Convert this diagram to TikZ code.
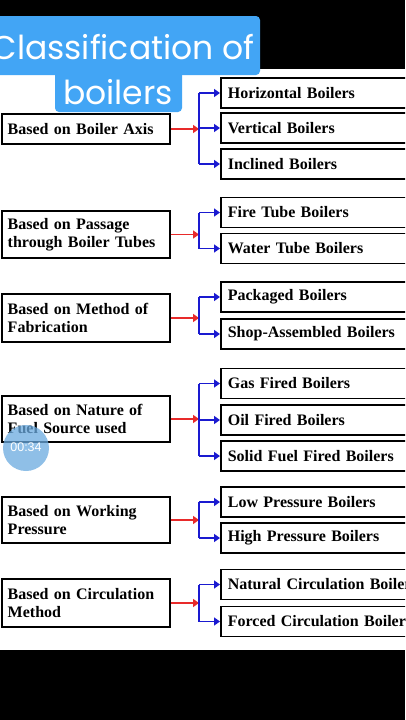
\documentclass[tikz,border=0pt]{standalone}
\usepackage{fontspec}
\setmainfont{Liberation Serif}
\newfontfamily\titlefont{Poppins}
\newfontfamily\clockfont{Liberation Sans}
\usetikzlibrary{arrows.meta,calc}
\definecolor{titleblue}{HTML}{42A5F5}
\definecolor{arrred}{HTML}{E82A2A}
\definecolor{arrblue}{HTML}{1A1AD0}
\definecolor{clockblue}{HTML}{6AAAE0}
\tikzset{
  leftbox/.style={draw=black, line width=1.7pt, fill=white, anchor=west,
    minimum width=168pt, text width=156pt, align=left, inner xsep=5pt,
    font=\fontsize{16}{18.5}\selectfont\bfseries},
  rightbox/.style={draw=black, line width=1.7pt, fill=white, anchor=west,
    minimum width=260pt, text width=246pt, align=left, inner xsep=7pt,
    minimum height=30pt, font=\fontsize{16}{18.5}\selectfont\bfseries},
  redarrow/.style={draw=arrred, line width=1.9pt, -{Triangle[length=6pt,width=8pt]}},
  bluearrow/.style={draw=arrblue, line width=1.9pt, -{Triangle[length=6pt,width=8pt]}},
  blueline/.style={draw=arrblue, line width=1.9pt},
  titlebg/.style={fill=titleblue, rounded corners=4pt},
  titletext/.style={text=white, font=\titlefont\fontsize{33}{36}\selectfont, inner sep=0pt, anchor=base}
}
\begin{document}
\begin{tikzpicture}[x=1pt,y=-1pt]
\useasboundingbox (0,0) rectangle (405,720);
\clip (0,0) rectangle (405,720);
% background
\fill[black] (0,0) rectangle (405,720);
\fill[white] (0,69) rectangle (405,650);

% title
\fill[titlebg] (-10,16) rectangle (260,75);
\fill[titlebg] (55,68) rectangle (182,112);
\node[titletext] (t1) at (123,59) {Classification of};
\node[titletext] (t2) at (118,104) {boilers};

% left boxes
\node[leftbox, minimum height=30pt] (L1) at (0.9,129) {Based on Boiler Axis};
\node[leftbox, minimum height=47pt] (L2) at (0.9,234.5) {Based on Passage\\through Boiler Tubes};
\node[leftbox, minimum height=48pt] (L3) at (0.9,318) {Based on Method of\\Fabrication};
\node[leftbox, minimum height=46pt] (L4) at (0.9,419) {Based on Nature of\\Fuel Source used};
\node[leftbox, minimum height=46pt] (L5) at (0.9,520) {Based on Working\\Pressure};
\node[leftbox, minimum height=48pt] (L6) at (0.9,603) {Based on Circulation\\Method};

% right boxes
\node[rightbox] (A1) at (220,93) {Horizontal Boilers};
\node[rightbox] (A2) at (220,128) {Vertical Boilers};
\node[rightbox] (A3) at (220,164) {Inclined Boilers};
\node[rightbox] (B1) at (220,212.5) {Fire Tube Boilers};
\node[rightbox] (B2) at (220,248.5) {Water Tube Boilers};
\node[rightbox] (C1) at (220,297) {Packaged Boilers};
\node[rightbox] (C2) at (220,334) {Shop-Assembled Boilers};
\node[rightbox] (D1) at (220,383.5) {Gas Fired Boilers};
\node[rightbox] (D2) at (220,420) {Oil Fired Boilers};
\node[rightbox] (D3) at (220,456) {Solid Fuel Fired Boilers};
\node[rightbox] (E1) at (220,502) {Low Pressure Boilers};
\node[rightbox] (E2) at (220,538) {High Pressure Boilers};
\node[rightbox] (F1) at (220,584.5) {Natural Circulation Boilers};
\node[rightbox] (F2) at (220,621.5) {Forced Circulation Boilers};

% bus coordinates
\coordinate (bus) at (199,0);

% connectors group 1
\draw[redarrow] (L1.east) -- (L1.east -| bus);
\draw[blueline] (A1.west -| bus) -- (A3.west -| bus);
\draw[bluearrow] (A1.west -| bus) -- (A1.west);
\draw[bluearrow] (A2.west -| bus) -- (A2.west);
\draw[bluearrow] (A3.west -| bus) -- (A3.west);
% group 2
\draw[redarrow] (L2.east) -- (L2.east -| bus);
\draw[blueline] (B1.west -| bus) -- (B2.west -| bus);
\draw[bluearrow] (B1.west -| bus) -- (B1.west);
\draw[bluearrow] (B2.west -| bus) -- (B2.west);
% group 3
\draw[redarrow] (L3.east) -- (L3.east -| bus);
\draw[blueline] (C1.west -| bus) -- (C2.west -| bus);
\draw[bluearrow] (C1.west -| bus) -- (C1.west);
\draw[bluearrow] (C2.west -| bus) -- (C2.west);
% group 4
\draw[redarrow] (L4.east) -- (L4.east -| bus);
\draw[blueline] (D1.west -| bus) -- (D3.west -| bus);
\draw[bluearrow] (D1.west -| bus) -- (D1.west);
\draw[bluearrow] (D2.west -| bus) -- (D2.west);
\draw[bluearrow] (D3.west -| bus) -- (D3.west);
% group 5
\draw[redarrow] (L5.east) -- (L5.east -| bus);
\draw[blueline] (E1.west -| bus) -- (E2.west -| bus);
\draw[bluearrow] (E1.west -| bus) -- (E1.west);
\draw[bluearrow] (E2.west -| bus) -- (E2.west);
% group 6
\draw[redarrow] (L6.east) -- (L6.east -| bus);
\draw[blueline] (F1.west -| bus) -- (F2.west -| bus);
\draw[bluearrow] (F1.west -| bus) -- (F1.west);
\draw[bluearrow] (F2.west -| bus) -- (F2.west);

% timer overlay
\fill[clockblue, opacity=0.75] (26,448) circle (23);
\node[text=white, font=\clockfont\fontsize{12.5}{13}\selectfont, inner sep=0pt] (clock) at (26,447) {00:34};
\end{tikzpicture}
\end{document}
